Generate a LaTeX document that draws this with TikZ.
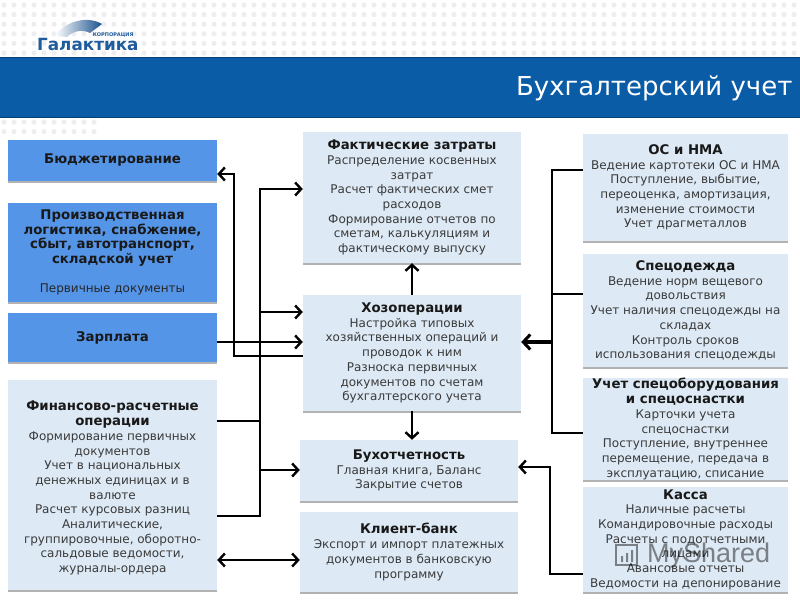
\documentclass[tikz,border=0pt]{standalone}
\usepackage{fontspec}
\setmainfont{DejaVu Sans}
\newfontfamily\wmfont{Liberation Sans}
\usetikzlibrary{arrows.meta,calc,shadows}
\definecolor{bandblue}{HTML}{0B5CA6}
\definecolor{boxlight}{HTML}{DDE9F4}
\definecolor{boxblue}{HTML}{5495E8}
\definecolor{txtgray}{HTML}{3A3A3A}
\definecolor{dotgray}{HTML}{EEEEEE}
\definecolor{logoblue}{HTML}{1F5C9E}
\tikzset{
  basebox/.style={rectangle,inner sep=0pt,align=center,text=txtgray,
    font=\fontsize{12}{14.7}\selectfont,
    drop shadow={shadow xshift=0pt,shadow yshift=-2pt,fill=black,opacity=.3}},
  lightbox/.style={basebox,fill=boxlight},
  bluebox/.style={basebox,fill=boxblue,text=black!85},
  conn/.style={draw=black,line width=2.6pt},
  arr/.style={conn,-{Straight Barb[length=6pt,width=13pt,line width=2.4pt]}},
  darr/.style={conn,{Straight Barb[length=6pt,width=13pt,line width=2.4pt]}-{Straight Barb[length=6pt,width=13pt,line width=2.4pt]}}
}
\newcommand{\ttl}[1]{{\fontsize{13.3}{14.7}\selectfont\bfseries\color{black!90}#1}}
\begin{document}
\begin{tikzpicture}[x=1pt,y=-1pt]
\useasboundingbox (0,0) rectangle (800,600);
\fill[white] (0,0) rectangle (800,600);

% dots behind the logo
\foreach \r in {0,...,5} {
  \foreach \c in {0,...,79} {
    \fill[dotgray] (\c*10+4,\r*9.6+5) circle (2.6pt);
  }
}
\foreach \r in {0,1} {
  \foreach \c in {0,...,9} {
    \fill[dotgray] (\c*10+4,\r*9.6+122) circle (2.6pt);
  }
}

% header band
\fill[bandblue] (0,57) rectangle (800,117);
\draw[bandblue!70!black,line width=1pt] (0,57) -- (800,57);
\draw[bandblue!70!black,line width=1pt] (0,117) -- (800,117);
\node[text=white,font=\fontsize{26}{30}\selectfont,anchor=east] (title) at (796,88) {Бухгалтерский учет};

% logo
\shade[left color=white,right color=logoblue!90!black,shading angle=90]
  (55,36) .. controls (62,24) and (85,14) .. (102,24) -- (90,33)
  .. controls (82,29) and (73,31) .. (67,37) -- cycle;
\node[text=logoblue,font=\fontsize{5}{6}\bfseries\selectfont,anchor=east] (corp) at (137,35) {КОРПОРАЦИЯ};
\node[text=logoblue,font=\fontsize{16.8}{18}\bfseries\selectfont,anchor=west,inner sep=0pt] (brand) at (37,44) {Галактика};

% left column
\node[bluebox,minimum width=209pt,minimum height=41pt] (budget) at (112.5,160.5) {\raisebox{-2pt}{\ttl{Бюджетирование}}};
\node[bluebox,minimum width=209pt,minimum height=99pt] (prod) at (112.5,252.5) {\ttl{Производственная}\\\ttl{логистика, снабжение,}\\\ttl{сбыт, автотранспорт,}\\\ttl{складской учет}\\[14.7pt]Первичные документы};
\node[bluebox,minimum width=209pt,minimum height=49pt] (salary) at (112.5,337.5) {\ttl{Зарплата}};
\node[lightbox,minimum width=209pt,minimum height=210pt] (fin) at (112.5,485) {\rule{0pt}{16pt}\ttl{Финансово-расчетные}\\\ttl{операции}\\Формирование первичных\\документов\\Учет в национальных\\денежных единицах и в\\валюте\\Расчет курсовых разниц\\Аналитические,\\группировочные, оборотно-\\сальдовые ведомости,\\журналы-ордера};

% middle column
\node[lightbox,minimum width=218pt,minimum height=131pt] (fact) at (412,197.5) {\ttl{Фактические затраты}\\Распределение косвенных\\затрат\\Расчет фактических смет\\расходов\\Формирование отчетов по\\сметам, калькуляциям и\\фактическому выпуску};
\node[lightbox,minimum width=218pt,minimum height=116pt] (hoz) at (412,353) {\ttl{Хозоперации}\\Настройка типовых\\хозяйственных операций и\\проводок к ним\\Разноска первичных\\документов по счетам\\бухгалтерского учета};
\node[lightbox,minimum width=218pt,minimum height=61pt] (buh) at (409,470.5) {\ttl{Бухотчетность}\\Главная книга, Баланс\\Закрытие счетов};
\node[lightbox,minimum width=218pt,minimum height=80pt] (bank) at (409,552) {\ttl{Клиент-банк}\\Экспорт и импорт платежных\\документов в банковскую\\программу};

% right column
\node[lightbox,minimum width=205pt,minimum height=107pt] (os) at (685.5,187.5) {\ttl{ОС и НМА}\\Ведение картотеки ОС и НМА\\Поступление, выбытие,\\переоценка, амортизация,\\изменение стоимости\\Учет драгметаллов};
\node[lightbox,minimum width=205pt,minimum height=113pt] (spec) at (685.5,310.5) {\ttl{Спецодежда}\\Ведение норм вещевого\\довольствия\\Учет наличия спецодежды на\\складах\\Контроль сроков\\использования спецодежды};
\node[lightbox,minimum width=205pt,minimum height=102pt] (equip) at (685.5,429) {\ttl{Учет спецоборудования}\\\ttl{и спецоснастки}\\Карточки учета\\спецоснастки\\Поступление, внутреннее\\перемещение, передача в\\эксплуатацию, списание};
\node[lightbox,minimum width=205pt,minimum height=105pt] (cash) at (685.5,539.5) {\ttl{Касса}\\Наличные расчеты\\Командировочные расходы\\Расчеты с подотчетными\\лицами\\Авансовые отчеты\\Ведомости на депонирование};

% bus lines
\coordinate (busL) at (260,300);
\coordinate (busM) at (234,300);
\coordinate (busR) at (552,300);
\coordinate (busC) at (550,500);

% connectors on the left
\draw[arr] (hoz.west |- 0,356) -- (busM |- 0,356) -- (busM |- 0,174) -- (budget.east |- 0,174);
\draw[arr] (fin.east |- 0,516) -- (busL |- 0,516) -- (busL |- 0,189) -- (fact.west |- 0,189);
\draw[conn] (fin.east |- 0,421) -- (busL |- 0,421);
\draw[arr] (busL |- 0,312) -- (hoz.west |- 0,312);
\draw[arr] (busL |- 0,470) -- (buh.west |- 0,470);
\draw[arr] (salary.east |- 0,342) -- (hoz.west |- 0,342);
\draw[darr] (fin.east |- 0,560) -- (bank.west |- 0,560);

% connectors in the middle
\draw[arr] (hoz.north) -- (fact.south);
\draw[arr] (hoz.south) -- (hoz.south |- buh.north);

% connectors on the right
\draw[conn] (os.west |- 0,170) -- (busR |- 0,170) -- (busR |- 0,433) -- (equip.west |- 0,433);
\draw[conn] (spec.west |- 0,294) -- (busR |- 0,294);
\draw[conn,line width=3.6pt,-{Straight Barb[length=7pt,width=15pt,line width=3pt]}] (busR |- 0,342) -- (hoz.east |- 0,342);
\draw[arr] (cash.west |- 0,574) -- (busC |- 0,574) -- (busC |- 0,467) -- (buh.east |- 0,467);

% watermark
\node[text=black,opacity=.45,font=\wmfont\fontsize{27}{30}\selectfont,anchor=west,inner sep=0pt] (mark) at (647,556) {MyShared};
\draw[black,opacity=.45,line width=1.5pt] (616,545) rectangle (637,565);
\fill[black,opacity=.45] (621,556) rectangle (623,562) (626,553) rectangle (628,562) (631,550) rectangle (633,562);

\end{tikzpicture}
\end{document}
